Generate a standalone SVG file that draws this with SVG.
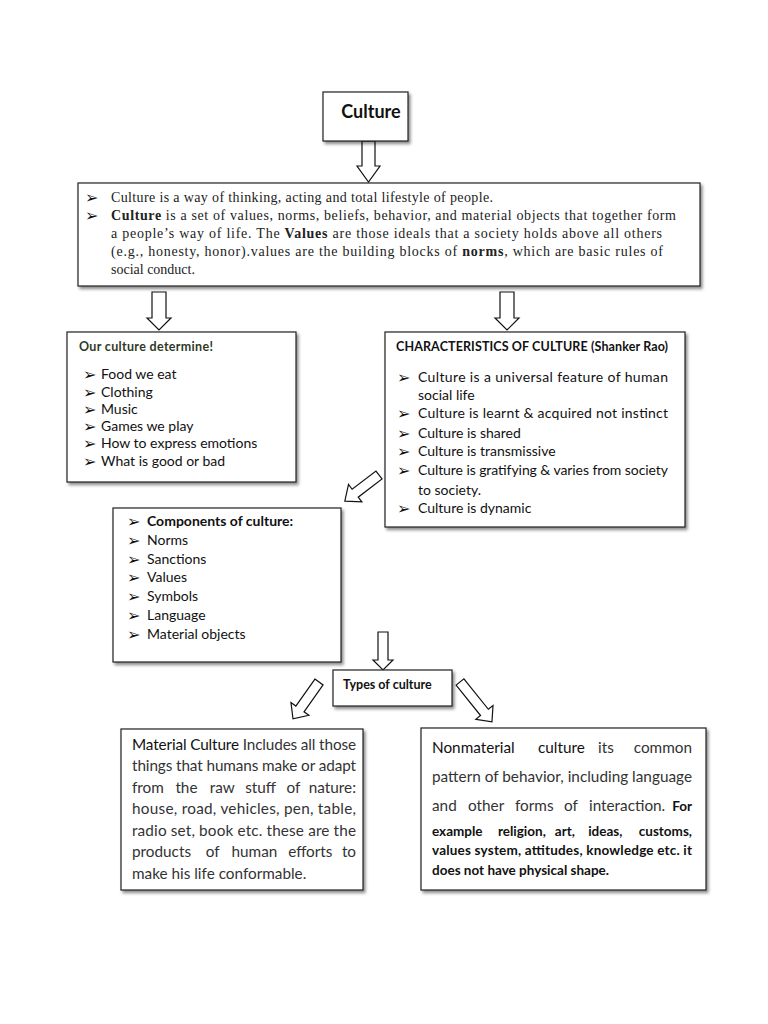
<svg xmlns="http://www.w3.org/2000/svg" width="768" height="1024" viewBox="0 0 768 1024">
<style>
.box{fill:#fff;stroke:#222;stroke-width:1.2;filter:url(#sh)}
.arr{fill:#fff;stroke:#111;stroke-width:1.2;stroke-linejoin:miter}
.bul{font-family:"DejaVu Sans",sans-serif;font-size:16px;fill:#111}
.ser{font-family:"Liberation Serif","Times New Roman",serif;font-size:14px;fill:#222}
.cal{font-family:Lato,"Noto Sans",sans-serif;font-size:14px;fill:#111}
.calb{font-family:Lato,"Noto Sans",sans-serif;font-size:12.5px;font-weight:bold;fill:#111}
.big{font-family:Lato,"Noto Sans",sans-serif;font-size:15.3px;fill:#111}
.lt{fill:#333}
.nb{font-family:Lato,"Noto Sans",sans-serif;font-size:13.5px;font-weight:bold;fill:#111}
.e{text-anchor:end}
</style>
<defs>
<filter id="sh" x="-5%" y="-5%" width="115%" height="120%">
<feDropShadow dx="2" dy="2.5" stdDeviation="1.5" flood-color="#000" flood-opacity="0.45"/>
</filter>
</defs>
<rect width="768" height="1024" fill="#fff"/>

<g id="connectors">
<polygon class="arr" points="362,141 375,141 375,166 380,166 368.5,182 357,166 362,166"/>
<polygon class="arr" points="152,292 166,292 166,318 171,318 159,330 147,318 152,318"/>
<polygon class="arr" points="500,292 514,292 514,318 519,318 507,330 495,318 500,318"/>
<g transform="translate(379,475) rotate(52.6)"><polygon class="arr" points="-5,0 5,0 5,30 11,30 0,43 -11,30 -5,30"/></g>
<polygon class="arr" points="378,632 388,632 388,660 393,660 383,670 373,660 378,660"/>
<g transform="translate(319,682) rotate(35.3)"><polygon class="arr" points="-5,0 5,0 5,33 11,33 0,45 -11,33 -5,33"/></g>
<g transform="translate(460,682) rotate(-38.8)"><polygon class="arr" points="-5,0 5,0 5,39 11,39 0,51 -11,39 -5,39"/></g>
</g>

<g id="culture">
<rect class="box" x="323" y="92" width="85" height="49"/>
<text x="371" y="118" text-anchor="middle" font-family="Lato,'Noto Sans',sans-serif" font-size="18" font-weight="bold" fill="#111">Culture</text>
</g>

<g id="definition">
<rect class="box" x="78" y="183" width="622" height="103"/>
<text class="bul" x="85" y="203">➢</text>
<text class="bul" x="85" y="221">➢</text>
<text class="ser" x="111" y="202" textLength="382" lengthAdjust="spacing">Culture is a way of thinking, acting and total lifestyle of people.</text>
<text class="ser" x="111" y="220" textLength="565" lengthAdjust="spacing"><tspan font-weight="bold">Culture</tspan> is a set of values, norms, beliefs, behavior, and material objects that together form</text>
<text class="ser" x="111" y="238" textLength="551" lengthAdjust="spacing">a people’s way of life. The <tspan font-weight="bold">Values</tspan> are those ideals that a society holds above all others</text>
<text class="ser" x="111" y="256" textLength="552" lengthAdjust="spacing">(e.g., honesty, honor).values are the building blocks of <tspan font-weight="bold">norms</tspan>, which are basic rules of</text>
<text class="ser" x="111" y="274">social conduct.</text>
</g>

<g id="determine">
<rect class="box" x="67" y="332" width="229" height="150"/>
<text class="calb" x="79" y="351" textLength="134" lengthAdjust="spacing" style="fill:#2f3a25">Our culture determine!</text>
<g class="bul"><text x="83" y="380">➢</text><text x="83" y="398">➢</text><text x="83" y="415">➢</text><text x="83" y="432">➢</text><text x="83" y="449">➢</text><text x="83" y="467">➢</text></g>
<text class="cal" x="101" y="379">Food we eat</text>
<text class="cal" x="101" y="397">Clothing</text>
<text class="cal" x="101" y="414">Music</text>
<text class="cal" x="101" y="431">Games we play</text>
<text class="cal" x="101" y="448">How to express emotions</text>
<text class="cal" x="101" y="466">What is good or bad</text>
</g>

<g id="characteristics">
<rect class="box" x="385" y="332" width="300" height="195"/>
<text class="calb" x="396" y="351" textLength="272" lengthAdjust="spacing">CHARACTERISTICS OF CULTURE (Shanker Rao)</text>
<g class="bul"><text x="397" y="383">➢</text><text x="397" y="419">➢</text><text x="397" y="439">➢</text><text x="397" y="457">➢</text><text x="397" y="476">➢</text><text x="397" y="514">➢</text></g>
<text class="cal" x="418" y="382" textLength="250" lengthAdjust="spacing">Culture is a universal feature of human</text>
<text class="cal" x="418" y="400">social life</text>
<text class="cal" x="418" y="418" textLength="250" lengthAdjust="spacing">Culture is learnt &amp; acquired not instinct</text>
<text class="cal" x="418" y="438">Culture is shared</text>
<text class="cal" x="418" y="456">Culture is transmissive</text>
<text class="cal" x="418" y="475" textLength="250" lengthAdjust="spacing">Culture is gratifying &amp; varies from society</text>
<text class="cal" x="418" y="495">to society.</text>
<text class="cal" x="418" y="513">Culture is dynamic</text>
</g>

<g id="components">
<rect class="box" x="113" y="508" width="228" height="154"/>
<g class="bul"><text x="127" y="527">➢</text><text x="127" y="546">➢</text><text x="127" y="565">➢</text><text x="127" y="583">➢</text><text x="127" y="602">➢</text><text x="127" y="621">➢</text><text x="127" y="640">➢</text></g>
<text class="cal" x="147" y="526" font-weight="bold">Components of culture:</text>
<text class="cal" x="147" y="545">Norms</text>
<text class="cal" x="147" y="564">Sanctions</text>
<text class="cal" x="147" y="582">Values</text>
<text class="cal" x="147" y="601">Symbols</text>
<text class="cal" x="147" y="620">Language</text>
<text class="cal" x="147" y="639">Material objects</text>
</g>

<g id="types">
<rect class="box" x="333" y="670" width="119" height="36"/>
<text class="calb" x="343" y="689" font-size="13">Types of culture</text>
</g>

<g id="material">
<rect class="box" x="121" y="729" width="242" height="161"/>
<text class="big" x="132" y="750" textLength="224" lengthAdjust="spacing">Material Culture <tspan class="lt">Includes all those</tspan></text>
<text class="big lt" x="132" y="771" textLength="224" lengthAdjust="spacing">things that humans make or adapt</text>
<g class="big lt"><text x="132" y="793">from</text><text x="175.4" y="793">the</text><text x="209.8" y="793">raw</text><text x="245.2" y="793">stuff</text><text x="286.6" y="793">of</text><text class="e" x="356" y="793">nature:</text></g>
<text class="big lt" x="132" y="814" textLength="224" lengthAdjust="spacing">house, road, vehicles, pen, table,</text>
<text class="big lt" x="132" y="836" textLength="224" lengthAdjust="spacing">radio set, book etc. these are the</text>
<g class="big lt"><text x="132" y="857">products</text><text x="205.7" y="857">of</text><text x="231.5" y="857">human</text><text x="288.2" y="857">efforts</text><text class="e" x="356" y="857">to</text></g>
<text class="big lt" x="132" y="879">make his life conformable.</text>
</g>

<g id="nonmaterial">
<rect class="box" x="421" y="728" width="285" height="162"/>
<g class="big"><text x="432" y="753">Nonmaterial</text><text x="538" y="753">culture</text></g>
<g class="big lt"><text x="598" y="753">its</text><text class="e" x="692" y="753">common</text></g>
<text class="big lt" x="432" y="782" textLength="260" lengthAdjust="spacing">pattern of behavior, including language</text>
<g class="big lt"><text x="432" y="811">and</text><text x="468" y="811">other</text><text x="515" y="811">forms</text><text x="564" y="811">of</text><text x="589" y="811">interaction.</text></g>
<text class="nb e" x="692" y="811">For</text>
<g class="nb"><text x="432" y="836">example</text><text x="497.9" y="836">religion,</text><text x="554.8" y="836">art,</text><text x="588.2" y="836">ideas,</text><text class="e" x="692" y="836">customs,</text></g>
<text class="nb" x="432" y="855" textLength="260" lengthAdjust="spacing">values system, attitudes, knowledge etc. it</text>
<text class="nb" x="432" y="875">does not have physical shape.</text>
</g>
</svg>
